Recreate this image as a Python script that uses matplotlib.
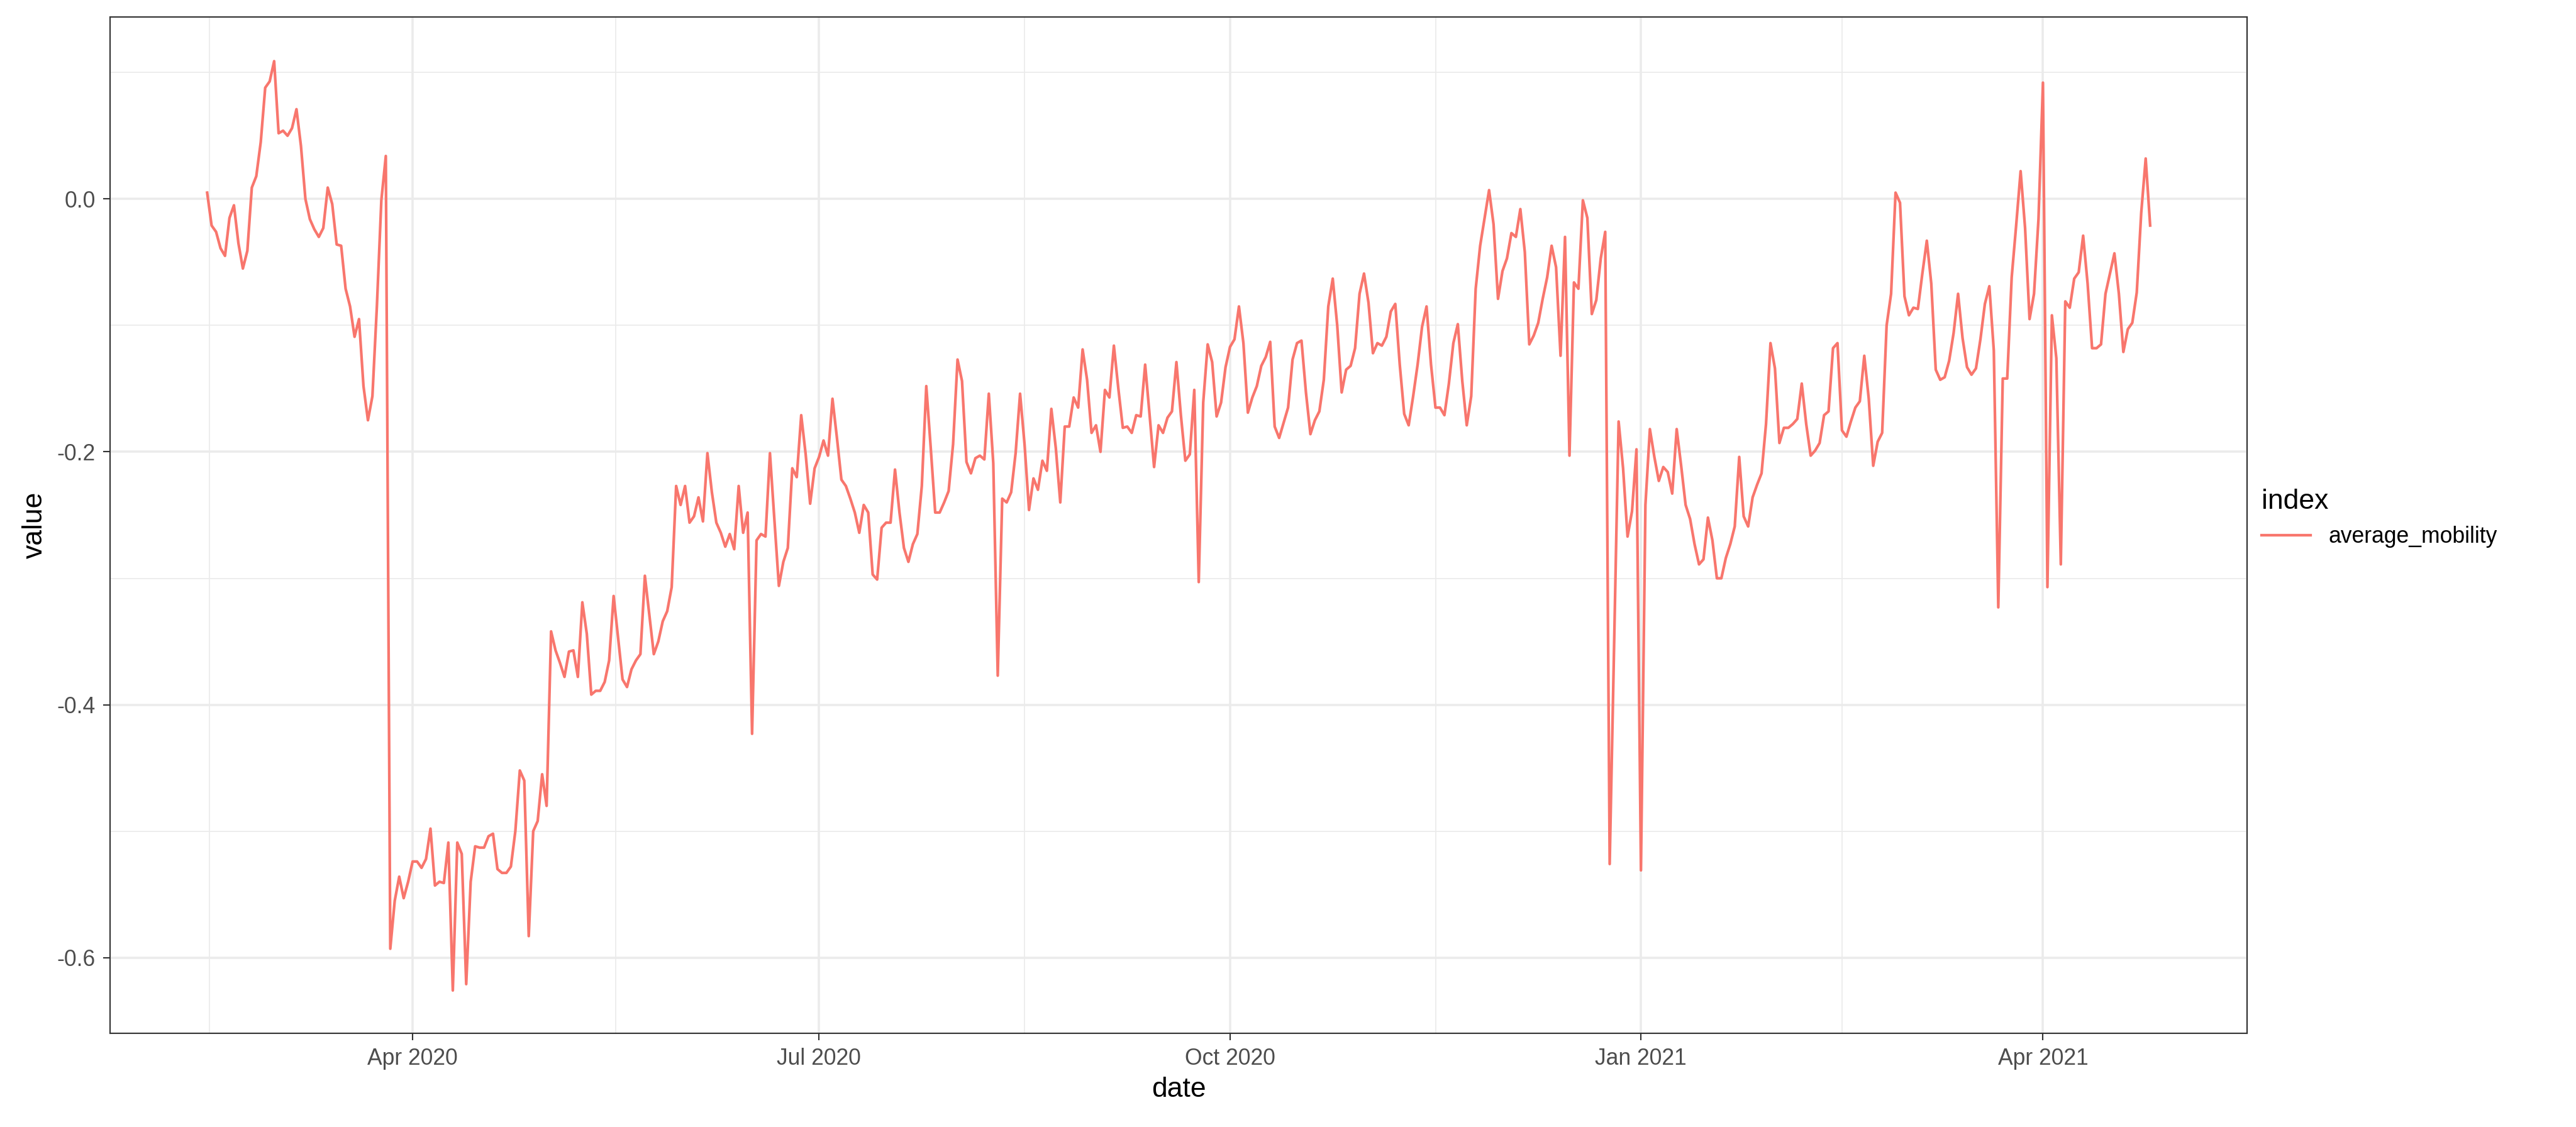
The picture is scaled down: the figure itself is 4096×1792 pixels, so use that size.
import numpy as np
import pandas as pd
import matplotlib
matplotlib.use("Agg")
import matplotlib.pyplot as plt
import matplotlib.dates as mdates

START_DATE = "2020-02-15"
SERIES_NAME = "average_mobility"

# daily values in 6 chunks
vals_feb_apr = [
    .005, -.021, -.026, -.039, -.045, -.015, -.005, -.035, -.055, -.041,
    .009, .018, .045, .088, .093, .109, .052, .054, .050, .056,
    .071, .042, .000, -.016, -.024, -.030, -.023, .009, -.004, -.036,
    -.037, -.071, -.085, -.109, -.095, -.148, -.175, -.156, -.085, -.001,
    .034, -.593, -.555, -.536, -.553, -.540, -.524, -.524, -.529, -.522,
    -.498, -.543, -.540, -.541, -.509, -.626, -.509, -.518, -.621, -.540,
    -.512, -.513, -.513, -.504, -.502, -.530, -.533, -.533, -.528, -.500,
    -.452, -.460,
]
vals_apr_jul = [
    -.583, -.500, -.492, -.455, -.480, -.342, -.357, -.367, -.378, -.358,
    -.357, -.378, -.319, -.344, -.392, -.389, -.389, -.382, -.365, -.314,
    -.347, -.380, -.386, -.372, -.365, -.360, -.298, -.329, -.360, -.350,
    -.334, -.326, -.307, -.227, -.242, -.227, -.256, -.251, -.236, -.255,
    -.201, -.232, -.256, -.264, -.275, -.265, -.277, -.227, -.264, -.248,
    -.423, -.270, -.265, -.267, -.201, -.254, -.306, -.287, -.276, -.213,
    -.220, -.171, -.202, -.241, -.213, -.204, -.191, -.203, -.158, -.189,
    -.222, -.227, -.237,
]
vals_jul_sep = [
    -.248, -.264, -.242, -.248, -.297, -.301, -.260, -.256, -.256, -.214,
    -.248, -.276, -.287, -.273, -.265, -.227, -.148, -.197, -.248, -.248,
    -.240, -.231, -.194, -.127, -.144, -.208, -.217, -.205, -.203, -.206,
    -.154, -.209, -.377, -.237, -.240, -.232, -.201, -.154, -.194, -.246,
    -.221, -.230, -.207, -.215, -.166, -.197, -.240, -.180, -.180, -.157,
    -.165, -.119, -.143, -.185, -.179, -.200, -.151, -.157, -.116, -.150,
    -.181, -.180, -.185, -.171, -.172, -.131, -.171, -.212, -.179, -.185,
    -.173, -.168, -.129,
]
vals_sep_nov = [
    -.171, -.207, -.202, -.151, -.303, -.161, -.115, -.129, -.172, -.161,
    -.133, -.117, -.111, -.085, -.114, -.169, -.157, -.148, -.132, -.125,
    -.113, -.180, -.189, -.177, -.165, -.127, -.114, -.112, -.153, -.186,
    -.175, -.168, -.143, -.085, -.063, -.100, -.153, -.135, -.132, -.118,
    -.075, -.059, -.082, -.122, -.114, -.116, -.109, -.089, -.083, -.131,
    -.170, -.179, -.156, -.131, -.101, -.085, -.131, -.165, -.165, -.171,
    -.146, -.114, -.099, -.144, -.179, -.156, -.071, -.037, -.015, .007,
    -.020, -.079, -.057,
]
vals_nov_feb = [
    -.047, -.027, -.030, -.008, -.042, -.115, -.108, -.098, -.079, -.062,
    -.037, -.054, -.124, -.030, -.203, -.066, -.071, -.001, -.015, -.091,
    -.080, -.047, -.026, -.526, -.350, -.176, -.213, -.267, -.247, -.198,
    -.531, -.242, -.182, -.204, -.223, -.212, -.216, -.233, -.182, -.211,
    -.242, -.253, -.273, -.289, -.285, -.252, -.270, -.300, -.300, -.284,
    -.273, -.259, -.204, -.251, -.259, -.236, -.226, -.217, -.178, -.114,
    -.134, -.193, -.181, -.181, -.178, -.174, -.146, -.178, -.203, -.199,
    -.193, -.171, -.168,
]
vals_feb_apr21 = [
    -.118, -.114, -.183, -.188, -.176, -.165, -.160, -.124, -.158, -.211,
    -.192, -.185, -.100, -.075, .005, -.003, -.077, -.092, -.086, -.087,
    -.059, -.033, -.067, -.135, -.143, -.141, -.128, -.106, -.075, -.110,
    -.133, -.139, -.134, -.111, -.083, -.069, -.120, -.323, -.142, -.142,
    -.062, -.021, .022, -.023, -.095, -.075, -.016, .092, -.307, -.092,
    -.126, -.289, -.081, -.086, -.063, -.058, -.029, -.067, -.118, -.118,
    -.115, -.075, -.059, -.043, -.075, -.121, -.103, -.098, -.074, -.011,
    .032, -.021,
]

values = (vals_feb_apr + vals_apr_jul + vals_jul_sep + vals_sep_nov
          + vals_nov_feb + vals_feb_apr21)
dates = pd.date_range(START_DATE, periods=len(values), freq="D")

plt.rcParams.update({"font.family": ["Liberation Sans", "DejaVu Sans"]})

fig = plt.figure(figsize=(16, 7), dpi=256)
ax = fig.add_axes([0.0427, 0.083, 0.8297, 0.902])

ax.plot(dates, values, color="#F8766D", linewidth=1.2, label=SERIES_NAME, zorder=3)

span = dates[-1] - dates[0]
ax.set_xlim(dates[0] - span * 0.05, dates[-1] + span * 0.05)
ax.set_ylim(-0.660, 0.144)

majors = pd.to_datetime(["2020-01-01", "2020-04-01", "2020-07-01", "2020-10-01",
                         "2021-01-01", "2021-04-01", "2021-07-01"])
minors = majors[:-1] + (majors[1:] - majors[:-1]) / 2
ax.set_xticks(majors[1:-1])
ax.set_xticklabels(["Apr 2020", "Jul 2020", "Oct 2020", "Jan 2021", "Apr 2021"])
ax.set_xticks(minors, minor=True)
ax.set_yticks([0.0, -0.2, -0.4, -0.6])
ax.set_yticklabels(["0.0", "-0.2", "-0.4", "-0.6"])
ax.set_yticks([0.1, -0.1, -0.3, -0.5], minor=True)

ax.grid(which="major", color="#EBEBEB", linewidth=1.0, zorder=0)
ax.grid(which="minor", color="#EBEBEB", linewidth=0.5, zorder=0)
ax.set_axisbelow(True)
ax.tick_params(which="major", colors="#333333", labelcolor="#4D4D4D", labelsize=10,
               length=3, width=0.6)
ax.tick_params(which="minor", length=0)
for s in ax.spines.values():
    s.set_color("#333333")
    s.set_linewidth(0.6)

ax.set_xlabel("date", fontsize=12.5, labelpad=3)
ax.set_ylabel("value", fontsize=12.5, labelpad=4)

leg = fig.legend(loc="center left", bbox_to_anchor=(0.87, 0.54), title="index",
                 frameon=False, fontsize=10, title_fontsize=12.5, handlelength=2.2,
                 alignment="left")

fig.savefig("out.png", dpi=256)
